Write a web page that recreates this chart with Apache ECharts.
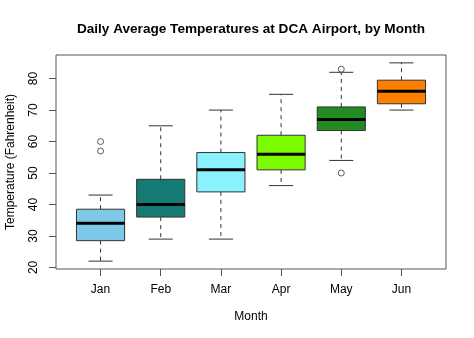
<!DOCTYPE html>
<html>
<head>
<meta charset="utf-8">
<script src="https://cdn.jsdelivr.net/npm/echarts@6/dist/echarts.min.js"></script>
<style>
  html, body { margin: 0; padding: 0; background: #fff; }
  #chart { width: 474px; height: 338px; }
</style>
</head>
<body>
<div id="chart"></div>
<script>
// Monthly summary of daily average temperatures (°F)
const months = ['Jan', 'Feb', 'Mar', 'Apr', 'May', 'Jun'];
const lowWhisker = [22, 29, 29, 46, 54, 70];
const lowerQuartile = [28.5, 36, 44, 51, 63.5, 72];
const median = [34, 40, 51, 56, 67, 76];
const upperQuartile = [38.5, 48, 56.5, 62, 71, 79.5];
const highWhisker = [43, 65, 70, 75, 82, 85];

// Points beyond the whiskers
const outlierMonth = [1, 1, 5, 5];
const outlierTemp = [57, 60, 50, 83];

const yTicks = [20, 30, 40, 50, 60, 70, 80];

const boxColors = ['#7ec8e8', '#167a74', '#8af2ff', '#7cfc00', '#228b22', '#ff7f00'];

const FONT = '"Liberation Sans", Arial, Helvetica, sans-serif';
const monthPositions = months.map((m, i) => i + 1);

const boxData = months.map((m, i) => [
  i + 1, lowWhisker[i], lowerQuartile[i], median[i], upperQuartile[i], highWhisker[i]
]);
const outlierData = outlierMonth.map((m, i) => [m, outlierTemp[i]]);

function renderBox(params, api) {
  const x = api.value(0);
  const pMin = api.coord([x, api.value(1)]);
  const pQ1 = api.coord([x, api.value(2)]);
  const pMed = api.coord([x, api.value(3)]);
  const pQ3 = api.coord([x, api.value(4)]);
  const pMax = api.coord([x, api.value(5)]);
  const boxW = api.size([0.8, 0])[0];
  const capW = boxW / 2;
  const cx = pMed[0];
  const dark = '#333';
  return {
    type: 'group',
    children: [
      { type: 'line', shape: { x1: cx, y1: pQ3[1], x2: cx, y2: pMax[1] },
        style: { stroke: dark, lineWidth: 1, lineDash: [4, 4] } },
      { type: 'line', shape: { x1: cx, y1: pQ1[1], x2: cx, y2: pMin[1] },
        style: { stroke: dark, lineWidth: 1, lineDash: [4, 4] } },
      { type: 'line', shape: { x1: cx - capW / 2, y1: pMax[1], x2: cx + capW / 2, y2: pMax[1] },
        style: { stroke: dark, lineWidth: 1 } },
      { type: 'line', shape: { x1: cx - capW / 2, y1: pMin[1], x2: cx + capW / 2, y2: pMin[1] },
        style: { stroke: dark, lineWidth: 1 } },
      { type: 'rect', shape: { x: cx - boxW / 2, y: pQ3[1], width: boxW, height: pQ1[1] - pQ3[1] },
        style: { fill: boxColors[params.dataIndex], stroke: dark, lineWidth: 1 } },
      { type: 'line', shape: { x1: cx - boxW / 2, y1: pMed[1], x2: cx + boxW / 2, y2: pMed[1] },
        style: { stroke: '#000', lineWidth: 3 } }
    ]
  };
}

const chart = echarts.init(document.getElementById('chart'), null, { renderer: 'canvas' });
chart.setOption({
  animation: false,
  backgroundColor: '#fff',
  title: {
    text: 'Daily Average Temperatures at DCA Airport, by Month',
    left: 246,
    top: 17,
    textAlign: 'center',
    textStyle: { fontFamily: FONT, fontSize: 13.6, fontWeight: 'bold', color: '#000' }
  },
  grid: {
    left: 56, right: 28, top: 55, bottom: 69,
    outerBoundsMode: 'none',
    containLabel: false,
    show: true, borderColor: '#555', borderWidth: 1, backgroundColor: 'transparent'
  },
  xAxis: {
    type: 'value',
    min: 0.26,
    max: 6.74,
    name: 'Month',
    nameLocation: 'middle',
    nameGap: 42,
    nameTextStyle: { fontFamily: FONT, fontSize: 12, color: '#000' },
    axisLine: { show: false },
    splitLine: { show: false },
    axisTick: { show: true, length: 7, customValues: monthPositions, lineStyle: { color: '#555' } },
    axisLabel: {
      customValues: monthPositions,
      margin: 15,
      fontFamily: FONT, fontSize: 12, color: '#000',
      formatter: v => months[Math.round(v) - 1] || ''
    }
  },
  yAxis: {
    type: 'value',
    min: 19.5,
    max: 87.5,
    name: 'Temperature (Fahrenheit)',
    nameLocation: 'middle',
    nameGap: 39,
    nameTextStyle: { fontFamily: FONT, fontSize: 12, color: '#000' },
    axisLine: { show: false },
    splitLine: { show: false },
    axisTick: { show: true, length: 7, customValues: yTicks, lineStyle: { color: '#555' } },
    axisLabel: {
      customValues: yTicks,
      rotate: 90,
      margin: 16,
      fontFamily: FONT, fontSize: 12, color: '#000'
    }
  },
  series: [
    {
      type: 'custom',
      renderItem: renderBox,
      data: boxData,
      encode: { x: 0, y: [1, 2, 3, 4, 5] },
      z: 2
    },
    {
      type: 'scatter',
      data: outlierData,
      symbol: 'circle',
      symbolSize: 6,
      itemStyle: { color: '#fff', borderColor: '#333', borderWidth: 1 },
      z: 3
    }
  ]
});
</script>
</body>
</html>
